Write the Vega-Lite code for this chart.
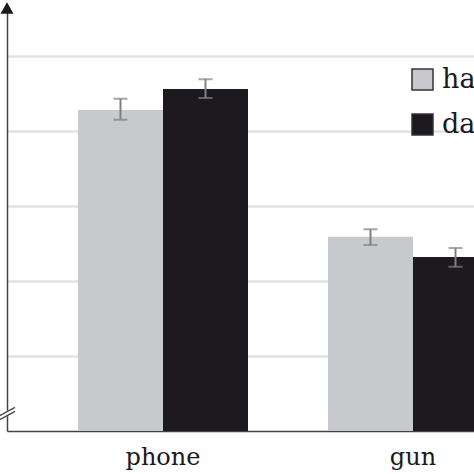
{
  "$schema": "https://vega.github.io/schema/vega-lite/v6.json",
  "width": 562,
  "height": 426,
  "autosize": {"type": "none"},
  "padding": {"left": 7, "top": 5, "right": 0, "bottom": 43},
  "background": "white",
  "config": {
    "view": {"stroke": null},
    "font": "DejaVu Serif"
  },
  "data": {
    "values": [
      {"object": "phone", "cond": "harmless", "value": 428, "lo": 415, "hi": 443},
      {"object": "phone", "cond": "dangerous", "value": 456, "lo": 444, "hi": 469},
      {"object": "gun", "cond": "harmless", "value": 259, "lo": 248, "hi": 269},
      {"object": "gun", "cond": "dangerous", "value": 232, "lo": 219, "hi": 244}
    ]
  },
  "encoding": {
    "x": {
      "field": "object",
      "type": "nominal",
      "sort": ["phone", "gun"],
      "scale": {"paddingInner": 0.32, "paddingOuter": 0.284},
      "axis": {
        "title": null,
        "ticks": false,
        "domainColor": "#444",
        "domainWidth": 1.5,
        "labelAngle": 0,
        "labelFont": "DejaVu Serif",
        "labelFontSize": 24,
        "labelColor": "#1a1a1a",
        "labelPadding": 14
      }
    },
    "xOffset": {"field": "cond", "type": "nominal", "sort": ["harmless", "dangerous"]}
  },
  "layer": [
    {
      "mark": {"type": "bar"},
      "encoding": {
        "y": {
          "field": "value",
          "type": "quantitative",
          "scale": {"domain": [0, 568], "nice": false},
          "axis": {
            "title": null,
            "labels": false,
            "ticks": false,
            "values": [100, 200, 300, 400, 500],
            "domainColor": "#444",
            "domainWidth": 1.5,
            "gridColor": "#e2e2e2",
            "gridWidth": 2.5
          }
        },
        "color": {
          "field": "cond",
          "type": "nominal",
          "sort": ["harmless", "dangerous"],
          "scale": {"domain": ["harmless", "dangerous"], "range": ["#c8c9cd", "#1d1a1f"]},
          "legend": {
            "orient": "none",
            "legendX": 402,
            "legendY": 61,
            "title": null,
            "symbolType": "square",
            "symbolSize": 441,
            "symbolStrokeColor": "#333",
            "symbolStrokeWidth": 1.5,
            "labelFont": "DejaVu Serif",
            "labelFontSize": 27,
            "labelColor": "#1a1a1a",
            "labelOffset": 6,
            "rowPadding": 17
          }
        }
      }
    },
    {
      "mark": {"type": "rule", "color": "#808080", "strokeWidth": 2},
      "encoding": {
        "y": {"field": "lo", "type": "quantitative"},
        "y2": {"field": "hi"}
      }
    },
    {
      "mark": {"type": "tick", "color": "#808080", "size": 14, "thickness": 2},
      "encoding": {"y": {"field": "lo", "type": "quantitative"}}
    },
    {
      "mark": {"type": "tick", "color": "#808080", "size": 14, "thickness": 2},
      "encoding": {"y": {"field": "hi", "type": "quantitative"}}
    },
    {
      "data": {"values": [{"mark": "arrow"}]},
      "mark": {"type": "point", "shape": "triangle-up", "filled": true, "color": "#1a1a1a", "size": 170, "opacity": 1},
      "encoding": {
        "x": {"value": 0},
        "xOffset": null,
        "y": {"datum": 564, "type": "quantitative"}
      }
    },
    {
      "data": {"values": [{"mark": "break"}]},
      "mark": {"type": "point", "shape": "M-1,0.55L1,-0.55", "filled": false, "color": "white", "strokeWidth": 5, "size": 256, "opacity": 1},
      "encoding": {
        "x": {"value": 0},
        "xOffset": null,
        "y": {"datum": 23, "type": "quantitative"}
      }
    },
    {
      "data": {"values": [{"mark": "break"}]},
      "mark": {"type": "point", "shape": "M-1,0.3L1,-0.8M-1,0.8L1,-0.3", "filled": false, "color": "#444", "strokeWidth": 1.3, "size": 256, "opacity": 1},
      "encoding": {
        "x": {"value": 0},
        "xOffset": null,
        "y": {"datum": 23, "type": "quantitative"}
      }
    }
  ]
}
